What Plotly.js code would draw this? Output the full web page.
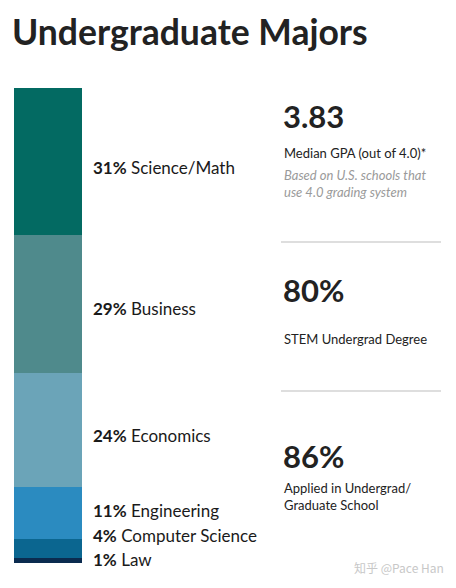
<!DOCTYPE html>
<html>
<head>
<meta charset="utf-8">
<script src="https://cdn.plot.ly/plotly-3.0.1.min.js"></script>
<style>
  body { margin: 0; background: #fff; }
  #plot { width: 456px; height: 588px; }
</style>
</head>
<body>
<div id="plot"></div>
<script>
// majors, bottom of the bar first
var majors = ["Law", "Computer Science", "Engineering", "Economics", "Business", "Science/Math"];
var shares = [1, 4, 11, 24, 29, 31];
var colors = ["#0b2b4f", "#0b6690", "#2b8bc0", "#6ba4b8", "#4f8a8c", "#036a62"];
// small nudges so the bottom labels don't overlap (positive = up)
var labelShift = [1, 13, 3, -5, -4, -6];

var statValues = ["3.83", "80%", "86%"];
var statLabels = ["Median GPA (out of 4.0)*", "STEM Undergrad Degree", "Applied in Undergrad/<br>Graduate School"];
var gpaNote = "Based on U.S. schools that<br>use 4.0 grading system";

var W = 456, H = 588;
function px(x) { return x / W; }
function py(y) { return 1 - y / H; }

var FONT = "Lato, 'Noto Sans', sans-serif";

var data = [];
var annotations = [];
var base = 0;
for (var i = 0; i < majors.length; i++) {
  data.push({
    type: "bar",
    x: ["majors"],
    y: [shares[i]],
    name: majors[i],
    marker: { color: colors[i], line: { width: 0 } },
    hoverinfo: "name+y"
  });
  annotations.push({
    xref: "paper", yref: "y",
    x: px(91), y: base + shares[i] / 2,
    yshift: labelShift[i],
    xanchor: "left", yanchor: "middle",
    showarrow: false,
    text: "<b>" + shares[i] + "%</b> " + majors[i],
    font: { family: FONT, size: 17, color: "#1a1a1a" }
  });
  base += shares[i];
}

var statY = [116, 290, 456];
var labelY = [153, 339, 496];
for (var j = 0; j < statValues.length; j++) {
  annotations.push({
    xref: "paper", yref: "paper",
    x: px(281), y: py(statY[j]),
    xanchor: "left", yanchor: "middle",
    showarrow: false,
    text: "<b>" + statValues[j] + "</b>",
    font: { family: FONT, size: 31, color: "#222" }
  });
  annotations.push({
    xref: "paper", yref: "paper",
    x: px(282), y: py(labelY[j]),
    xanchor: "left", yanchor: "middle", align: "left",
    showarrow: false,
    text: statLabels[j],
    font: { family: FONT, size: 13, color: "#222" }
  });
}
annotations.push({
  xref: "paper", yref: "paper",
  x: px(282), y: py(183),
  xanchor: "left", yanchor: "middle", align: "left",
  showarrow: false,
  text: "<i>" + gpaNote + "</i>",
  font: { family: FONT, size: 13, color: "#9a9a9a" }
});
annotations.push({
  xref: "paper", yref: "paper",
  x: px(446), y: py(567),
  xanchor: "right", yanchor: "middle",
  showarrow: false,
  text: "知乎 @Pace Han",
  font: { family: "'Noto Sans CJK SC', sans-serif", size: 12, color: "#c8c8c8" }
});

var shapes = [242, 391].map(function (y) {
  return {
    type: "line", xref: "paper", yref: "paper",
    x0: px(281), x1: px(441), y0: py(y), y1: py(y),
    line: { color: "#dedede", width: 2 }
  };
});

var layout = {
  width: W, height: H,
  margin: { l: 0, r: 0, t: 0, b: 0 },
  paper_bgcolor: "#fff",
  plot_bgcolor: "#fff",
  barmode: "stack",
  bargap: 0,
  showlegend: false,
  title: {
    text: "<b>Undergraduate Majors</b>",
    x: px(12), xanchor: "left",
    y: py(33), yanchor: "middle",
    font: { family: FONT, size: 35.5, color: "#222" }
  },
  xaxis: {
    domain: [px(14), px(82)],
    range: [-0.5, 0.5],
    visible: false,
    fixedrange: true
  },
  yaxis: {
    domain: [py(563), py(88)],
    range: [0, 100],
    visible: false,
    fixedrange: true
  },
  annotations: annotations,
  shapes: shapes
};

Plotly.newPlot("plot", data, layout, { displayModeBar: false, staticPlot: true });
</script>
</body>
</html>
